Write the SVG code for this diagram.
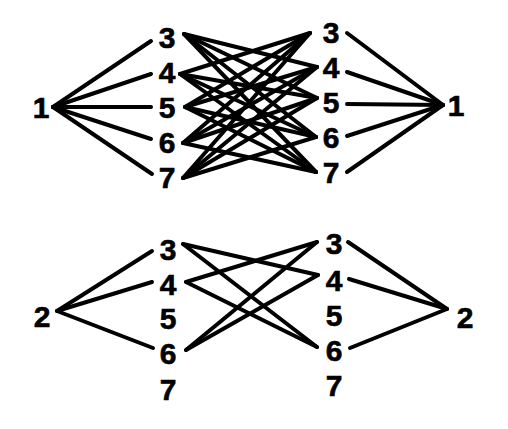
<svg xmlns="http://www.w3.org/2000/svg" width="508" height="429" viewBox="0 0 508 429">
<style>
text{font-family:"Liberation Sans",Arial,sans-serif;font-weight:bold;font-size:30px;fill:#000;stroke:#000;stroke-width:0.6;text-anchor:middle}
line{stroke:#000;stroke-width:4;stroke-linecap:round}
</style>
<rect width="508" height="429" fill="#fff"/>
<g id="connectors">
<line x1="53" y1="107" x2="151" y2="41"/>
<line x1="53" y1="107" x2="151" y2="74"/>
<line x1="53" y1="107" x2="151" y2="107"/>
<line x1="53" y1="107" x2="151" y2="139"/>
<line x1="53" y1="107" x2="152" y2="174"/>
<line x1="347" y1="33" x2="443" y2="105"/>
<line x1="347" y1="72" x2="443" y2="105"/>
<line x1="347" y1="104" x2="443" y2="105"/>
<line x1="347" y1="136" x2="443" y2="105"/>
<line x1="347" y1="172" x2="443" y2="105"/>
<line x1="184" y1="34" x2="317" y2="67"/>
<line x1="184" y1="34" x2="317" y2="98"/>
<line x1="184" y1="34" x2="316" y2="137"/>
<line x1="184" y1="34" x2="316" y2="172"/>
<line x1="180" y1="74" x2="310" y2="33"/>
<line x1="180" y1="74" x2="317" y2="98"/>
<line x1="180" y1="74" x2="316" y2="137"/>
<line x1="180" y1="74" x2="316" y2="172"/>
<line x1="185" y1="107" x2="310" y2="33"/>
<line x1="185" y1="107" x2="317" y2="67"/>
<line x1="185" y1="107" x2="316" y2="137"/>
<line x1="185" y1="107" x2="316" y2="172"/>
<line x1="183" y1="143" x2="310" y2="33"/>
<line x1="183" y1="143" x2="317" y2="67"/>
<line x1="183" y1="143" x2="317" y2="98"/>
<line x1="183" y1="143" x2="316" y2="172"/>
<line x1="183" y1="178" x2="310" y2="33"/>
<line x1="183" y1="178" x2="317" y2="67"/>
<line x1="183" y1="178" x2="317" y2="98"/>
<line x1="183" y1="178" x2="316" y2="137"/>
<line x1="57" y1="311" x2="152" y2="251"/>
<line x1="57" y1="311" x2="152" y2="282"/>
<line x1="57" y1="311" x2="153" y2="348"/>
<line x1="348" y1="242" x2="447" y2="309"/>
<line x1="349" y1="279" x2="447" y2="309"/>
<line x1="350" y1="348" x2="447" y2="309"/>
<line x1="183" y1="244" x2="318" y2="275"/>
<line x1="183" y1="244" x2="317" y2="347"/>
<line x1="186" y1="282" x2="317" y2="242"/>
<line x1="186" y1="282" x2="317" y2="347"/>
<line x1="186" y1="350" x2="317" y2="242"/>
<line x1="186" y1="350" x2="318" y2="275"/>
</g>
<g id="t-1L"><text x="41" y="118">1</text></g>
<g id="t-L3"><text x="167" y="48">3</text></g>
<g id="t-L4"><text x="167" y="83">4</text></g>
<g id="t-L5"><text x="167" y="118">5</text></g>
<g id="t-L6"><text x="167" y="153">6</text></g>
<g id="t-L7"><text x="167" y="188">7</text></g>
<g id="t-R3"><text x="331" y="43">3</text></g>
<g id="t-R4"><text x="331" y="78">4</text></g>
<g id="t-R5"><text x="331" y="113">5</text></g>
<g id="t-R6"><text x="331" y="148">6</text></g>
<g id="t-R7"><text x="331" y="183">7</text></g>
<g id="t-1R"><text x="456" y="116">1</text></g>
<g id="b-2L"><text x="42" y="327">2</text></g>
<g id="b-L3"><text x="168" y="260">3</text></g>
<g id="b-L4"><text x="168" y="295">4</text></g>
<g id="b-L5"><text x="168" y="329">5</text></g>
<g id="b-L6"><text x="168" y="364">6</text></g>
<g id="b-L7"><text x="168" y="400">7</text></g>
<g id="b-R3"><text x="334" y="254">3</text></g>
<g id="b-R4"><text x="334" y="291">4</text></g>
<g id="b-R5"><text x="334" y="326">5</text></g>
<g id="b-R6"><text x="334" y="361">6</text></g>
<g id="b-R7"><text x="334" y="396">7</text></g>
<g id="b-2R"><text x="465" y="328">2</text></g>
</svg>
